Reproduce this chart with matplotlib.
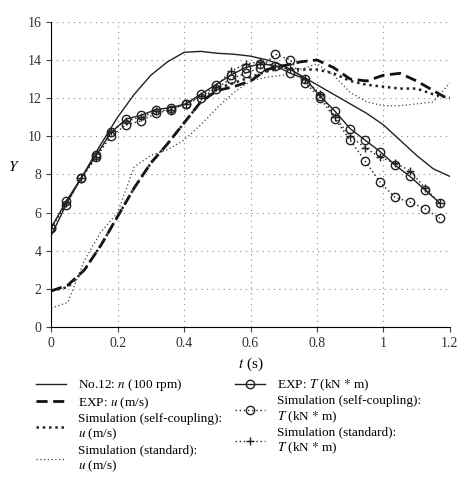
import matplotlib
matplotlib.use("Agg")
import matplotlib.pyplot as plt

plt.rcParams['font.family'] = ['Liberation Serif', 'DejaVu Serif']
plt.rcParams['mathtext.fontset'] = 'stix'

t_line = [0, 0.05, 0.1, 0.15, 0.2, 0.25, 0.3, 0.35, 0.4, 0.45, 0.5, 0.55, 0.6,
          0.65, 0.7, 0.75, 0.8, 0.85, 0.9, 0.95, 1.0, 1.05, 1.1, 1.15, 1.2]
n_speed = [4.8, 6.6, 8.1, 9.6, 11.0, 12.2, 13.2, 13.9, 14.4, 14.45, 14.35, 14.3, 14.2,
           14.0, 13.7, 13.2, 12.7, 12.2, 11.7, 11.2, 10.6, 9.8, 9.0, 8.3, 7.9]
u_exp = [1.9, 2.2, 3.0, 4.3, 5.8, 7.3, 8.6, 9.6, 10.7, 11.8, 12.4, 12.6, 12.9,
         13.5, 13.7, 13.9, 14.0, 13.6, 13.0, 12.9, 13.2, 13.3, 12.9, 12.4, 11.9]
u_self = [1.9, 2.1, 3.0, 4.3, 5.8, 7.3, 8.6, 9.6, 10.7, 11.8, 12.5, 12.8, 13.1,
          13.4, 13.6, 13.5, 13.5, 13.3, 12.9, 12.7, 12.6, 12.5, 12.5, 12.2, 12.0]
u_std = [1.0, 1.3, 3.5, 5.0, 6.0, 8.4, 9.0, 9.3, 9.8, 10.6, 11.5, 12.3, 12.9,
         13.1, 13.2, 13.5, 13.8, 13.2, 12.3, 11.8, 11.6, 11.6, 11.7, 11.8, 12.8]

t_mark = [0, 0.045, 0.09, 0.135, 0.18, 0.225, 0.27, 0.315, 0.36, 0.405, 0.45, 0.495, 0.54, 0.585,
          0.63, 0.675, 0.72, 0.765, 0.81, 0.855, 0.9, 0.945, 0.99, 1.035, 1.08, 1.125, 1.17]
T_exp = [5.2, 6.6, 7.8, 9.0, 10.2, 10.9, 11.1, 11.4, 11.5, 11.7, 12.2, 12.7, 13.2, 13.6,
         13.8, 13.7, 13.3, 13.0, 12.1, 11.3, 10.4, 9.8, 9.2, 8.5, 7.9, 7.2, 6.5]
T_self = [5.2, 6.4, 7.8, 8.9, 10.0, 10.6, 10.8, 11.2, 11.4, 11.7, 12.0, 12.5, 13.0, 13.3,
          13.6, 14.3, 14.0, 12.8, 12.0, 10.9, 9.8, 8.7, 7.6, 6.8, 6.55, 6.2, 5.7]
T_std = [5.2, 6.5, 7.8, 8.9, 10.3, 10.8, 11.0, 11.3, 11.4, 11.7, 12.1, 12.6, 13.4, 13.8,
         13.9, 13.7, 13.5, 13.0, 12.2, 11.0, 10.0, 9.4, 8.9, 8.6, 8.2, 7.3, 6.5]

fig = plt.figure(figsize=(4.74, 4.84), dpi=100)
ax = fig.add_axes([0.108, 0.324, 0.841, 0.631])

ax.plot(t_line, n_speed, color='#222', lw=1.0, label=r'No.12: $n$ (100 rpm)')
ax.plot(t_line, u_exp, color='#111', lw=2.0, ls=(0, (4, 2)), label=r'EXP: $u$ (m/s)')
ax.plot(t_line, u_self, color='#222', lw=1.8, ls=(0, (1, 1.5)),
        label='Simulation (self-coupling):\n$u$ (m/s)')
ax.plot(t_line, u_std, color='#444', lw=0.9, ls=(0, (1, 2)),
        label='Simulation (standard):\n$u$ (m/s)')
ax.plot(t_mark, T_exp, color='#222', lw=1.0, marker='o', ms=6, mfc='none', mec='#222',
        label=r'EXP: $T$ (kN $*$ m)')
ax.plot(t_mark, T_self, color='#222', lw=1.0, ls=(0, (1, 2)), marker='o', ms=6, mfc='none',
        mec='#222', label='Simulation (self-coupling):\n$T$ (kN $*$ m)')
ax.plot(t_mark, T_std, color='#222', lw=1.0, ls=(0, (1, 2)), marker='+', ms=6,
        label='Simulation (standard):\n$T$ (kN $*$ m)')

ax.set_xlim(0, 1.2)
ax.set_ylim(0, 16)
ax.set_xticks([0, 0.2, 0.4, 0.6, 0.8, 1.0, 1.2])
ax.set_xticklabels(['0', '0.2', '0.4', '0.6', '0.8', '1', '1.2'])
ax.set_yticks(range(0, 17, 2))
ax.tick_params(labelsize=10, color='#444', labelcolor='#333')
ax.grid(True, ls=(0, (1, 4)), color='#888', lw=0.8)
for s in ['top', 'right']:
    ax.spines[s].set_visible(False)
ax.set_xlabel(r'$t$ (s)', fontsize=11)
ax.set_ylabel(r'$Y$', fontsize=11, rotation=0, labelpad=10)

fig.legend(loc='upper left', bbox_to_anchor=(0.05, 0.245), ncol=2, frameon=False,
           fontsize=9.5, handlelength=2.3, columnspacing=1.0, labelspacing=0.15,
           handletextpad=0.9)
fig.savefig('out.png', dpi=100)
